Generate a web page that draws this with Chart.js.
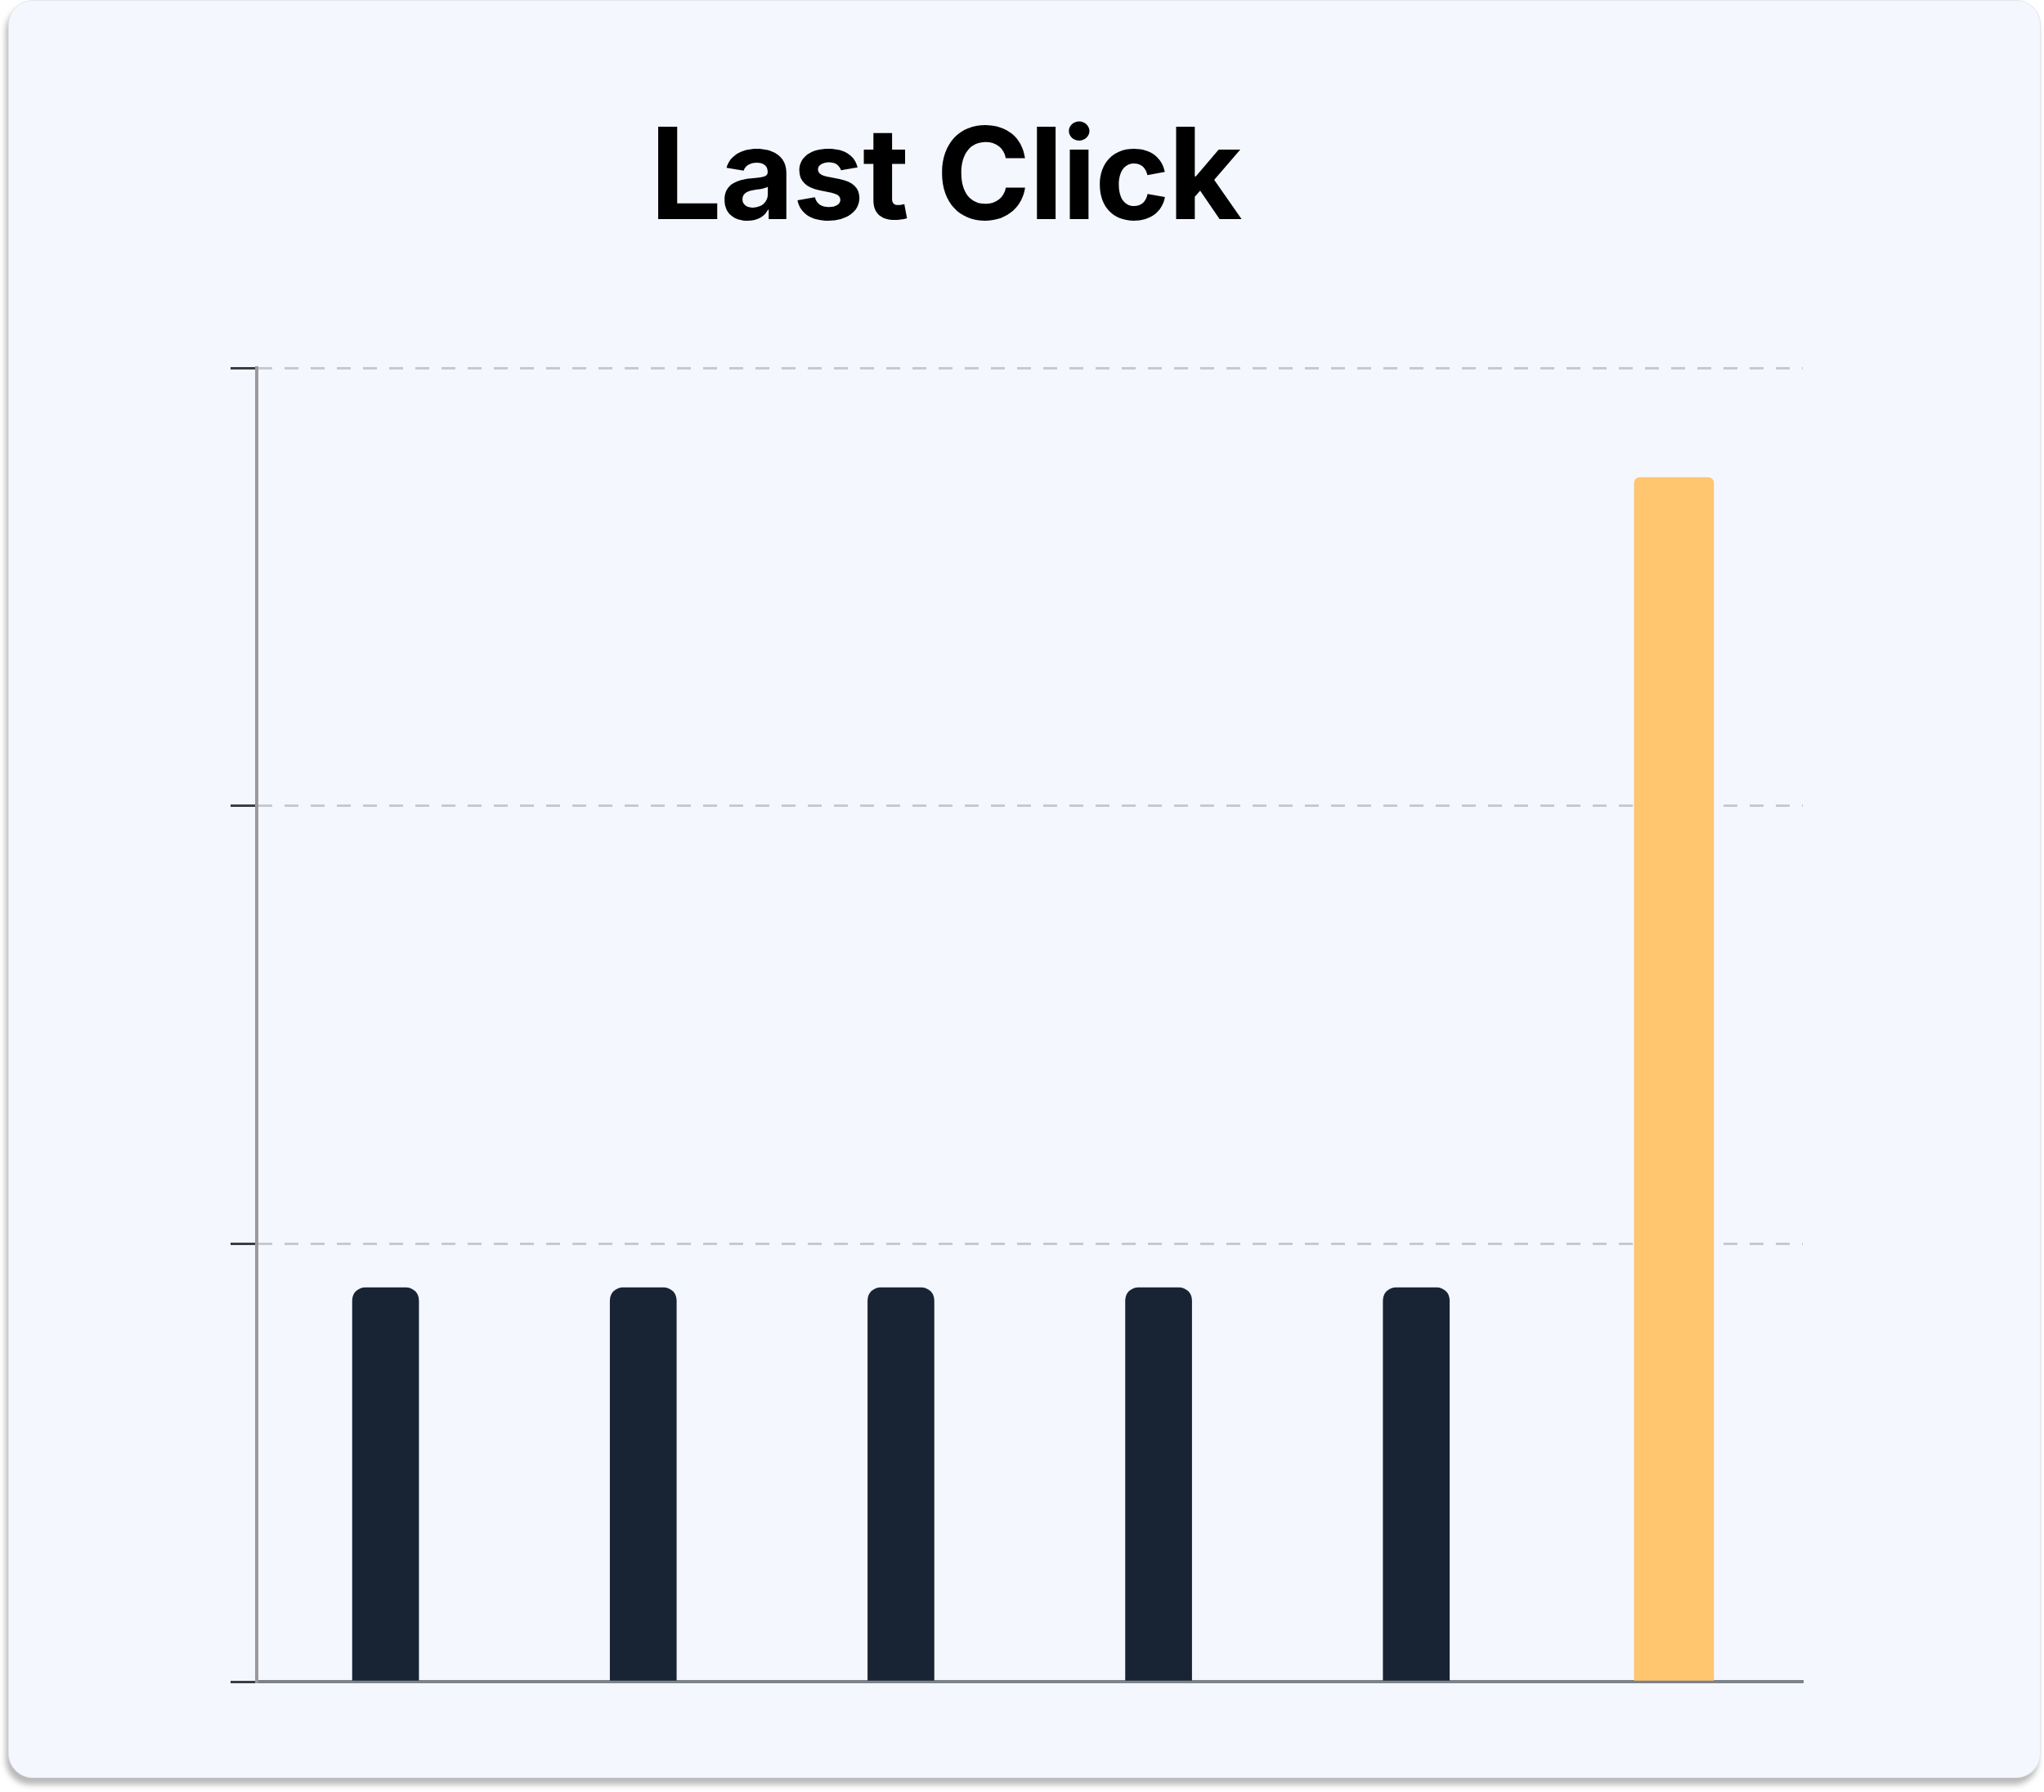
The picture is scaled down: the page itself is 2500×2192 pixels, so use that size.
<!DOCTYPE html>
<html>
<head>
<meta charset="utf-8">
<title>Last Click</title>
<script src="https://cdn.jsdelivr.net/npm/chart.js@4.4.1/dist/chart.umd.min.js"></script>
<style>
  html, body { margin: 0; padding: 0; background: #ffffff; }
  body { width: 2500px; height: 2192px; position: relative; overflow: hidden; }
  .card {
    position: absolute;
    left: 10px; top: 0;
    width: 2486px; height: 2175px;
    box-sizing: border-box;
    background: #f4f7fe;
    border: 1px solid #e2e5ec;
    border-radius: 30px;
    box-shadow: -3px 8px 7px rgba(0, 0, 0, 0.28);
  }
  #chart { position: absolute; left: 0; top: 0; }
</style>
</head>
<body>
<div class="card"></div>
<canvas id="chart" width="2500" height="2192"></canvas>
<script>
// touchpoints in the path; the last one gets all the credit
var categories = ['Touchpoint 1', 'Touchpoint 2', 'Touchpoint 3', 'Touchpoint 4', 'Touchpoint 5', 'Last Click'];
var otherValues = [9, 9, 9, 9, 9, null];
var lastClickValues = [null, null, null, null, null, 27.5];
var yTicks = [0, 10, 20, 30];

(function () {
  var el = document.getElementById('chart');
  if (!el || !window.Chart) return;

  var cDark = '#182434';
  var cOrange = '#ffc56f';

  // title in the reference is set a bit tighter than Inter's default spacing
  var tightText = {
    id: 'tightText',
    beforeDraw: function (chart) { chart.ctx.letterSpacing = '-2px'; },
    afterDraw: function (chart) { chart.ctx.letterSpacing = '0px'; }
  };

  new Chart(el, {
    type: 'bar',
    data: {
      labels: categories,
      datasets: [{
        label: 'Other touchpoints',
        data: otherValues,
        backgroundColor: cDark,
        borderWidth: 0,
        borderRadius: 16,
        barThickness: 81,
        grouped: false
      }, {
        label: 'Last click',
        data: lastClickValues,
        backgroundColor: cOrange,
        borderWidth: 0,
        borderRadius: 7,
        barThickness: 97,
        grouped: false
      }]
    },
    plugins: [tightText],
    options: {
      responsive: false,
      devicePixelRatio: 1,
      animation: false,
      layout: { padding: { left: 107, right: 295, top: 0, bottom: 135 } },
      plugins: {
        legend: { display: false },
        tooltip: { enabled: false },
        title: {
          display: true,
          text: 'Last Click',
          color: '#000000',
          font: { family: 'Inter', size: 156, weight: '700', lineHeight: 1.2 },
          padding: { top: 127, bottom: 136 }
        }
      },
      scales: {
        x: {
          grid: { display: false, drawTicks: false },
          ticks: { display: false },
          border: { display: true, color: '#7e838b', width: 4 }
        },
        y: {
          min: yTicks[0],
          max: yTicks[yTicks.length - 1],
          afterBuildTicks: function (axis) {
            axis.ticks = yTicks.map(function (v) { return { value: v }; });
          },
          afterFit: function (axis) { axis.width = 207; },
          ticks: { display: false },
          grid: {
            color: '#c6c9cf',
            lineWidth: 3,
            tickColor: '#3a3d42',
            tickWidth: 3,
            tickLength: 32,
            drawTicks: true
          },
          border: { display: true, color: '#9a9a9c', width: 4, dash: [17, 15] }
        }
      }
    }
  });
})();
</script>
</body>
</html>
